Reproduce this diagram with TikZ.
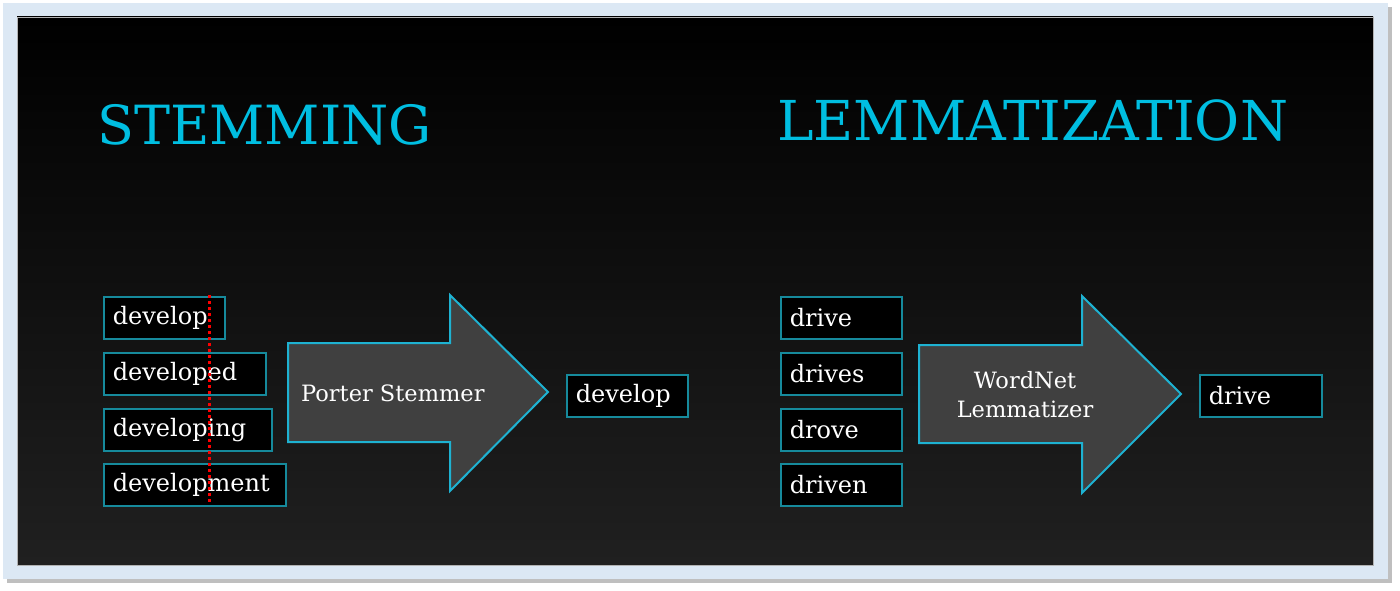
\documentclass[tikz,border=0pt]{standalone}
\usepackage{fontspec}
\setmainfont{DejaVu Serif}
\definecolor{framebg}{RGB}{220,232,244}
\definecolor{titlecyan}{RGB}{0,190,225}
\definecolor{boxteal}{RGB}{22,138,156}
\definecolor{arrowcyan}{RGB}{30,178,210}
\definecolor{arrowfill}{RGB}{64,64,64}
\definecolor{bgbottom}{RGB}{32,32,32}
\tikzset{
  wordbox/.style={draw=boxteal, line width=1.6pt, fill=black, anchor=north west,
     inner xsep=9pt, inner ysep=0pt, align=left, text=white,
     font=\fontsize{24}{26}\selectfont, minimum height=#1},
  wordbox/.default=42pt,
  bigarrow/.style={fill=arrowfill, draw=arrowcyan, line width=2pt, line join=miter},
  title/.style={text=titlecyan, anchor=base west, inner sep=0pt, font=\fontsize{54}{60}\selectfont},
  arrowtext/.style={text=white, font=\fontsize{22.5}{29}\selectfont, align=center, inner sep=0pt},
}
\begin{document}
\begin{tikzpicture}[x=1pt,y=-1pt]
\useasboundingbox (0,0) rectangle (1400,591);
\fill[white] (0,0) rectangle (1400,591);
% frame with shadow
\fill[black!25] (7,7) rectangle (1392,583);
\fill[framebg] (3,3) rectangle (1388,579);
\shade[top color=black, middle color=black, bottom color=bgbottom] (17,17) rectangle (1373,565);
\draw[white!70!black, line width=0.8pt] (17,17) rectangle (1373,565);
% titles
\node[title] (t1) at (97,145) {STEMMING};
\node[title, font=\fontsize{55}{60}\selectfont] (t2) at (777,140) {LEMMATIZATION};
% left word boxes
\node[wordbox, text width=103pt] (w1) at (103,296) {develop};
\node[wordbox, text width=144pt] (w2) at (103,352) {developed};
\node[wordbox, text width=150pt] (w3) at (103,408) {developing};
\node[wordbox, text width=164pt] (w4) at (103,463) {development};
\coordinate (cuttop) at (209,295);
\coordinate (cutbot) at (209,504);
\draw[red, line width=3pt, dash pattern=on 3pt off 3pt] (cuttop) -- (cutbot);
% arrow 1
\draw[bigarrow] (288,343) -- (450,343) -- (450,295) -- (548,392) -- (450,491) -- (450,442) -- (288,442) -- cycle;
\node[arrowtext, anchor=west] (a1) at (301,393) {Porter Stemmer};
\node[wordbox, text width=103pt] (o1) at (566,374) {develop};
% right word boxes
\node[wordbox, text width=103pt] (r1) at (780,296) {drive};
\node[wordbox, text width=103pt] (r2) at (780,352) {drives};
\node[wordbox, text width=103pt] (r3) at (780,408) {drove};
\node[wordbox, text width=103pt] (r4) at (780,463) {driven};
% arrow 2
\draw[bigarrow] (919,345) -- (1082,345) -- (1082,296) -- (1181,394) -- (1082,493) -- (1082,443) -- (919,443) -- cycle;
\node[arrowtext] (a2) at (1025,395) {WordNet\\Lemmatizer};
\node[wordbox, text width=104pt] (o2) at (1199,374) {drive};
\end{tikzpicture}
\end{document}
